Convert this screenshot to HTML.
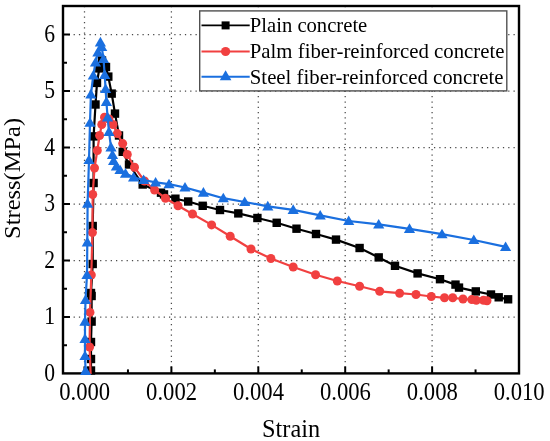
<!DOCTYPE html><html><head><meta charset="utf-8"><title>Stress-strain curves</title>
<style>html,body{margin:0;padding:0;background:#fff}svg{display:block}text{font-family:"Liberation Serif","Times New Roman",serif;fill:#000}</style></head><body>
<svg width="550" height="441" viewBox="0 0 550 441">
<rect width="550" height="441" fill="#fff"/>
<g stroke="#4a4a4a" stroke-width="1.25" stroke-dasharray="1.25 4.05" fill="none">
<line x1="84.50" y1="6.0" x2="84.50" y2="373.4"/>
<line x1="171.40" y1="6.0" x2="171.40" y2="373.4"/>
<line x1="258.30" y1="6.0" x2="258.30" y2="373.4"/>
<line x1="345.20" y1="6.0" x2="345.20" y2="373.4"/>
<line x1="432.10" y1="6.0" x2="432.10" y2="373.4"/>
<line x1="63.0" y1="317.00" x2="519.0" y2="317.00"/>
<line x1="63.0" y1="260.50" x2="519.0" y2="260.50"/>
<line x1="63.0" y1="204.00" x2="519.0" y2="204.00"/>
<line x1="63.0" y1="147.50" x2="519.0" y2="147.50"/>
<line x1="63.0" y1="91.00" x2="519.0" y2="91.00"/>
<line x1="63.0" y1="34.50" x2="519.0" y2="34.50"/>
</g>
<rect x="63.0" y="6.0" width="456.0" height="367.4" fill="none" stroke="#000" stroke-width="2.4"/>
<g stroke="#000" stroke-width="2">
<line x1="84.50" y1="373.4" x2="84.50" y2="366.4"/>
<line x1="127.95" y1="373.4" x2="127.95" y2="369.4"/>
<line x1="171.40" y1="373.4" x2="171.40" y2="366.4"/>
<line x1="214.85" y1="373.4" x2="214.85" y2="369.4"/>
<line x1="258.30" y1="373.4" x2="258.30" y2="366.4"/>
<line x1="301.75" y1="373.4" x2="301.75" y2="369.4"/>
<line x1="345.20" y1="373.4" x2="345.20" y2="366.4"/>
<line x1="388.65" y1="373.4" x2="388.65" y2="369.4"/>
<line x1="432.10" y1="373.4" x2="432.10" y2="366.4"/>
<line x1="475.55" y1="373.4" x2="475.55" y2="369.4"/>
<line x1="63.0" y1="345.25" x2="67.0" y2="345.25"/>
<line x1="63.0" y1="317.00" x2="70.0" y2="317.00"/>
<line x1="63.0" y1="288.75" x2="67.0" y2="288.75"/>
<line x1="63.0" y1="260.50" x2="70.0" y2="260.50"/>
<line x1="63.0" y1="232.25" x2="67.0" y2="232.25"/>
<line x1="63.0" y1="204.00" x2="70.0" y2="204.00"/>
<line x1="63.0" y1="175.75" x2="67.0" y2="175.75"/>
<line x1="63.0" y1="147.50" x2="70.0" y2="147.50"/>
<line x1="63.0" y1="119.25" x2="67.0" y2="119.25"/>
<line x1="63.0" y1="91.00" x2="70.0" y2="91.00"/>
<line x1="63.0" y1="62.75" x2="67.0" y2="62.75"/>
<line x1="63.0" y1="34.50" x2="70.0" y2="34.50"/>
</g>
<polyline points="91.0,370.5 91.0,359.0 91.0,342.0 91.6,321.6 91.6,296.0 91.0,293.0 92.7,264.0 92.7,226.0 93.6,183.0 93.6,136.4 95.5,104.5 97.0,82.9 99.3,68.4 102.0,60.5 106.0,67.0 108.3,76.6 111.7,93.6 115.0,113.6 119.0,135.5 122.7,151.8 129.0,164.5 142.7,184.5 161.0,192.7 164.0,194.4 175.4,198.7 188.2,201.5 202.7,205.8 220.0,210.0 238.3,213.4 257.4,218.0 276.7,222.8 296.5,228.7 316.0,234.0 336.0,239.6 359.6,248.0 378.7,257.4 395.0,265.8 417.6,273.4 440.0,279.2 455.5,284.6 459.0,287.6 475.8,291.4 491.0,294.5 498.7,297.3 508.1,299.3" fill="none" stroke="#000" stroke-width="2.2" stroke-linejoin="round"/>
<g fill="#000">
<rect x="86.8" y="366.3" width="8.4" height="8.4"/>
<rect x="86.8" y="354.8" width="8.4" height="8.4"/>
<rect x="86.8" y="337.8" width="8.4" height="8.4"/>
<rect x="87.4" y="317.4" width="8.4" height="8.4"/>
<rect x="87.4" y="291.8" width="8.4" height="8.4"/>
<rect x="86.8" y="288.8" width="8.4" height="8.4"/>
<rect x="88.5" y="259.8" width="8.4" height="8.4"/>
<rect x="88.5" y="221.8" width="8.4" height="8.4"/>
<rect x="89.4" y="178.8" width="8.4" height="8.4"/>
<rect x="89.4" y="132.2" width="8.4" height="8.4"/>
<rect x="91.3" y="100.3" width="8.4" height="8.4"/>
<rect x="92.8" y="78.7" width="8.4" height="8.4"/>
<rect x="95.1" y="64.2" width="8.4" height="8.4"/>
<rect x="97.8" y="56.3" width="8.4" height="8.4"/>
<rect x="101.8" y="62.8" width="8.4" height="8.4"/>
<rect x="104.1" y="72.4" width="8.4" height="8.4"/>
<rect x="107.5" y="89.4" width="8.4" height="8.4"/>
<rect x="110.8" y="109.4" width="8.4" height="8.4"/>
<rect x="114.8" y="131.3" width="8.4" height="8.4"/>
<rect x="118.5" y="147.6" width="8.4" height="8.4"/>
<rect x="124.8" y="160.3" width="8.4" height="8.4"/>
<rect x="138.5" y="180.3" width="8.4" height="8.4"/>
<rect x="156.8" y="188.5" width="8.4" height="8.4"/>
<rect x="159.8" y="190.2" width="8.4" height="8.4"/>
<rect x="171.2" y="194.5" width="8.4" height="8.4"/>
<rect x="184.0" y="197.3" width="8.4" height="8.4"/>
<rect x="198.5" y="201.6" width="8.4" height="8.4"/>
<rect x="215.8" y="205.8" width="8.4" height="8.4"/>
<rect x="234.1" y="209.2" width="8.4" height="8.4"/>
<rect x="253.2" y="213.8" width="8.4" height="8.4"/>
<rect x="272.5" y="218.6" width="8.4" height="8.4"/>
<rect x="292.3" y="224.5" width="8.4" height="8.4"/>
<rect x="311.8" y="229.8" width="8.4" height="8.4"/>
<rect x="331.8" y="235.4" width="8.4" height="8.4"/>
<rect x="355.4" y="243.8" width="8.4" height="8.4"/>
<rect x="374.5" y="253.2" width="8.4" height="8.4"/>
<rect x="390.8" y="261.6" width="8.4" height="8.4"/>
<rect x="413.4" y="269.2" width="8.4" height="8.4"/>
<rect x="435.8" y="275.0" width="8.4" height="8.4"/>
<rect x="451.3" y="280.4" width="8.4" height="8.4"/>
<rect x="454.8" y="283.4" width="8.4" height="8.4"/>
<rect x="471.6" y="287.2" width="8.4" height="8.4"/>
<rect x="486.8" y="290.3" width="8.4" height="8.4"/>
<rect x="494.5" y="293.1" width="8.4" height="8.4"/>
<rect x="503.9" y="295.1" width="8.4" height="8.4"/>
</g>
<polyline points="90.6,374.0 89.6,347.0 90.0,312.4 91.3,275.0 92.4,232.6 92.7,194.5 94.5,168.0 97.3,150.5 99.6,135.5 101.8,124.5 104.5,117.3 109.0,119.0 113.0,124.5 117.3,133.6 122.7,143.6 127.3,154.5 134.5,167.3 144.5,181.0 154.6,190.0 165.4,198.2 178.0,205.8 192.5,214.0 211.6,224.9 230.2,236.3 251.0,249.0 270.9,258.5 293.2,267.0 315.6,274.7 337.3,281.0 359.6,286.2 379.7,291.3 399.6,293.2 416.0,294.5 431.3,296.5 444.5,297.8 452.7,297.8 463.0,299.0 471.8,299.6 476.3,300.3 483.5,300.3 487.0,300.8" fill="none" stroke="#f14040" stroke-width="2.2" stroke-linejoin="round"/>
<g fill="#f14040">
<circle cx="89.6" cy="347.0" r="4.5"/>
<circle cx="90.0" cy="312.4" r="4.5"/>
<circle cx="91.3" cy="275.0" r="4.5"/>
<circle cx="92.4" cy="232.6" r="4.5"/>
<circle cx="92.7" cy="194.5" r="4.5"/>
<circle cx="94.5" cy="168.0" r="4.5"/>
<circle cx="97.3" cy="150.5" r="4.5"/>
<circle cx="99.6" cy="135.5" r="4.5"/>
<circle cx="101.8" cy="124.5" r="4.5"/>
<circle cx="104.5" cy="117.3" r="4.5"/>
<circle cx="109.0" cy="119.0" r="4.5"/>
<circle cx="113.0" cy="124.5" r="4.5"/>
<circle cx="117.3" cy="133.6" r="4.5"/>
<circle cx="122.7" cy="143.6" r="4.5"/>
<circle cx="127.3" cy="154.5" r="4.5"/>
<circle cx="134.5" cy="167.3" r="4.5"/>
<circle cx="144.5" cy="181.0" r="4.5"/>
<circle cx="154.6" cy="190.0" r="4.5"/>
<circle cx="165.4" cy="198.2" r="4.5"/>
<circle cx="178.0" cy="205.8" r="4.5"/>
<circle cx="192.5" cy="214.0" r="4.5"/>
<circle cx="211.6" cy="224.9" r="4.5"/>
<circle cx="230.2" cy="236.3" r="4.5"/>
<circle cx="251.0" cy="249.0" r="4.5"/>
<circle cx="270.9" cy="258.5" r="4.5"/>
<circle cx="293.2" cy="267.0" r="4.5"/>
<circle cx="315.6" cy="274.7" r="4.5"/>
<circle cx="337.3" cy="281.0" r="4.5"/>
<circle cx="359.6" cy="286.2" r="4.5"/>
<circle cx="379.7" cy="291.3" r="4.5"/>
<circle cx="399.6" cy="293.2" r="4.5"/>
<circle cx="416.0" cy="294.5" r="4.5"/>
<circle cx="431.3" cy="296.5" r="4.5"/>
<circle cx="444.5" cy="297.8" r="4.5"/>
<circle cx="452.7" cy="297.8" r="4.5"/>
<circle cx="463.0" cy="299.0" r="4.5"/>
<circle cx="471.8" cy="299.6" r="4.5"/>
<circle cx="476.3" cy="300.3" r="4.5"/>
<circle cx="483.5" cy="300.3" r="4.5"/>
<circle cx="487.0" cy="300.8" r="4.5"/>
</g>
<polyline points="85.6,370.8 85.0,356.0 85.0,339.0 85.0,321.6 85.5,300.0 87.0,275.0 87.3,242.3 87.6,203.6 89.0,160.0 90.0,122.7 90.9,94.5 93.3,75.5 95.5,62.4 97.9,52.3 100.4,42.3 101.7,47.0 103.5,59.0 104.7,74.8 105.6,89.0 106.4,101.8 107.6,117.3 109.0,131.8 111.0,147.3 112.5,155.0 113.6,161.0 116.4,166.4 120.0,170.0 125.5,173.6 133.6,177.3 143.6,180.0 155.6,182.4 169.0,184.2 185.0,187.5 203.4,192.6 223.3,198.2 244.7,202.0 267.8,206.3 293.2,209.8 320.2,215.4 348.7,221.0 378.7,224.4 409.5,228.8 442.0,234.2 473.8,240.0 505.6,246.9" fill="none" stroke="#1a6fdf" stroke-width="2.2" stroke-linejoin="round"/>
<g fill="#1a6fdf">
<path d="M85.6 365.3l5.6 9.6h-11.2z"/>
<path d="M85.0 350.5l5.6 9.6h-11.2z"/>
<path d="M85.0 333.5l5.6 9.6h-11.2z"/>
<path d="M85.0 316.1l5.6 9.6h-11.2z"/>
<path d="M85.5 294.5l5.6 9.6h-11.2z"/>
<path d="M87.0 269.5l5.6 9.6h-11.2z"/>
<path d="M87.3 236.8l5.6 9.6h-11.2z"/>
<path d="M87.6 198.1l5.6 9.6h-11.2z"/>
<path d="M89.0 154.5l5.6 9.6h-11.2z"/>
<path d="M90.0 117.2l5.6 9.6h-11.2z"/>
<path d="M90.9 89.0l5.6 9.6h-11.2z"/>
<path d="M93.3 70.0l5.6 9.6h-11.2z"/>
<path d="M95.5 56.9l5.6 9.6h-11.2z"/>
<path d="M97.9 46.8l5.6 9.6h-11.2z"/>
<path d="M100.4 36.8l5.6 9.6h-11.2z"/>
<path d="M101.7 41.5l5.6 9.6h-11.2z"/>
<path d="M103.5 53.5l5.6 9.6h-11.2z"/>
<path d="M104.7 69.3l5.6 9.6h-11.2z"/>
<path d="M105.6 83.5l5.6 9.6h-11.2z"/>
<path d="M106.4 96.3l5.6 9.6h-11.2z"/>
<path d="M107.6 111.8l5.6 9.6h-11.2z"/>
<path d="M109.0 126.3l5.6 9.6h-11.2z"/>
<path d="M111.0 141.8l5.6 9.6h-11.2z"/>
<path d="M112.5 149.5l5.6 9.6h-11.2z"/>
<path d="M113.6 155.5l5.6 9.6h-11.2z"/>
<path d="M116.4 160.9l5.6 9.6h-11.2z"/>
<path d="M120.0 164.5l5.6 9.6h-11.2z"/>
<path d="M125.5 168.1l5.6 9.6h-11.2z"/>
<path d="M133.6 171.8l5.6 9.6h-11.2z"/>
<path d="M143.6 174.5l5.6 9.6h-11.2z"/>
<path d="M155.6 176.9l5.6 9.6h-11.2z"/>
<path d="M169.0 178.7l5.6 9.6h-11.2z"/>
<path d="M185.0 182.0l5.6 9.6h-11.2z"/>
<path d="M203.4 187.1l5.6 9.6h-11.2z"/>
<path d="M223.3 192.7l5.6 9.6h-11.2z"/>
<path d="M244.7 196.5l5.6 9.6h-11.2z"/>
<path d="M267.8 200.8l5.6 9.6h-11.2z"/>
<path d="M293.2 204.3l5.6 9.6h-11.2z"/>
<path d="M320.2 209.9l5.6 9.6h-11.2z"/>
<path d="M348.7 215.5l5.6 9.6h-11.2z"/>
<path d="M378.7 218.9l5.6 9.6h-11.2z"/>
<path d="M409.5 223.3l5.6 9.6h-11.2z"/>
<path d="M442.0 228.7l5.6 9.6h-11.2z"/>
<path d="M473.8 234.5l5.6 9.6h-11.2z"/>
<path d="M505.6 241.4l5.6 9.6h-11.2z"/>
</g>
<text x="84.7" y="400" font-size="25" text-anchor="middle" textLength="51" lengthAdjust="spacingAndGlyphs">0.000</text>
<text x="171.6" y="400" font-size="25" text-anchor="middle" textLength="51" lengthAdjust="spacingAndGlyphs">0.002</text>
<text x="258.5" y="400" font-size="25" text-anchor="middle" textLength="51" lengthAdjust="spacingAndGlyphs">0.004</text>
<text x="345.4" y="400" font-size="25" text-anchor="middle" textLength="51" lengthAdjust="spacingAndGlyphs">0.006</text>
<text x="432.3" y="400" font-size="25" text-anchor="middle" textLength="51" lengthAdjust="spacingAndGlyphs">0.008</text>
<text x="519.2" y="400" font-size="25" text-anchor="middle" textLength="51" lengthAdjust="spacingAndGlyphs">0.010</text>
<text x="55" y="380.9" font-size="25" text-anchor="end" textLength="10.8" lengthAdjust="spacingAndGlyphs">0</text>
<text x="55" y="324.4" font-size="25" text-anchor="end" textLength="10.8" lengthAdjust="spacingAndGlyphs">1</text>
<text x="55" y="267.9" font-size="25" text-anchor="end" textLength="10.8" lengthAdjust="spacingAndGlyphs">2</text>
<text x="55" y="211.4" font-size="25" text-anchor="end" textLength="10.8" lengthAdjust="spacingAndGlyphs">3</text>
<text x="55" y="154.9" font-size="25" text-anchor="end" textLength="10.8" lengthAdjust="spacingAndGlyphs">4</text>
<text x="55" y="98.4" font-size="25" text-anchor="end" textLength="10.8" lengthAdjust="spacingAndGlyphs">5</text>
<text x="55" y="41.9" font-size="25" text-anchor="end" textLength="10.8" lengthAdjust="spacingAndGlyphs">6</text>
<text x="291.1" y="437" font-size="25" text-anchor="middle" textLength="58" lengthAdjust="spacingAndGlyphs">Strain</text>
<text transform="translate(20.2 178.4) rotate(-90)" font-size="22.6" text-anchor="middle" textLength="121" lengthAdjust="spacingAndGlyphs">Stress(MPa)</text>
<rect x="199.7" y="10.9" width="307.1" height="80" fill="#fff" stroke="#505050" stroke-width="1.4"/>
<line x1="201.5" y1="25.4" x2="249.7" y2="25.4" stroke="#000" stroke-width="1.9"/>
<rect x="221.6" y="21.4" width="8" height="8" fill="#000"/>
<text x="249.8" y="32.2" font-size="20.7" textLength="117.5" lengthAdjust="spacingAndGlyphs">Plain concrete</text>
<line x1="201.5" y1="51.5" x2="249.7" y2="51.5" stroke="#f14040" stroke-width="1.9"/>
<circle cx="225.6" cy="51.5" r="4.6" fill="#f14040"/>
<text x="249.8" y="58.2" font-size="20.7" textLength="254.6" lengthAdjust="spacingAndGlyphs">Palm fiber-reinforced concrete</text>
<line x1="201.5" y1="76.8" x2="249.7" y2="76.8" stroke="#1a6fdf" stroke-width="1.9"/>
<path d="M225.6 70.3l5.8 10h-11.6z" fill="#1a6fdf"/>
<text x="249.8" y="84.2" font-size="20.7" textLength="253.6" lengthAdjust="spacingAndGlyphs">Steel fiber-reinforced concrete</text>
</svg></body></html>
